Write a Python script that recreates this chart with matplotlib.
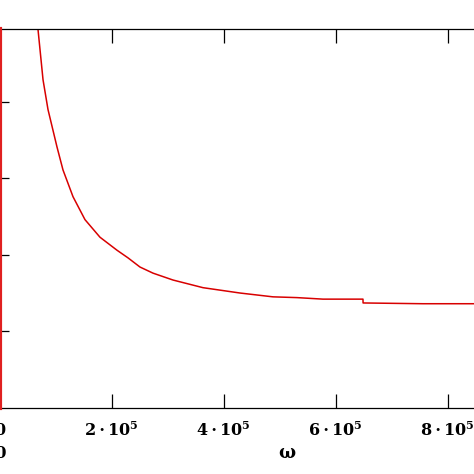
"""Decaying response curve versus omega (cropped plot)."""

import matplotlib
matplotlib.use("Agg")
import matplotlib.pyplot as plt
import numpy as np

# curve, omega in units of 1e5
omega = [0.679, 0.769, 0.858, 1.019, 1.126, 1.305, 1.519, 1.787, 2.091, 2.288,
         2.502, 2.735, 3.092, 3.628, 4.290, 4.879, 5.308, 5.773, 6.488, 6.49,
         7.56, 8.47, 9.5]
response = [4.95, 4.29, 3.90, 3.41, 3.11, 2.76, 2.46, 2.23, 2.06, 1.96,
            1.84, 1.76, 1.67, 1.57, 1.50, 1.45, 1.44, 1.42, 1.42, 1.37,
            1.36, 1.36, 1.35]
wall_x = [0, 0]
wall_y = [0, 4.95]

xticks = [0, 2, 4, 6, 8]
xticklabels = [r"$\mathbf{0}$", r"$\mathbf{2\cdot10^5}$", r"$\mathbf{4\cdot10^5}$",
               r"$\mathbf{6\cdot10^5}$", r"$\mathbf{8\cdot10^5}$"]
yticks = [1, 2, 3, 4]

plt.rcParams["mathtext.fontset"] = "dejavuserif"
plt.rcParams["font.family"] = "DejaVu Serif"

fig = plt.figure(figsize=(4.74, 4.74), dpi=100)
ax = fig.add_axes([0.0, 0.1399, 574 / 474, 0.7983])

red = "#d80000"
ax.plot(np.array(omega) * 1e5, response, color=red, lw=1.1)
ax.plot(wall_x, wall_y, color="#e02020", lw=3, clip_on=False, zorder=5)

ax.set_xlim(0, 10.26e5)
ax.set_ylim(0, 4.95)
ax.set_xticks(np.array(xticks) * 1e5)
ax.set_xticklabels(xticklabels, fontsize=11.5)
ax.set_yticks(yticks)
ax.set_yticklabels([])
ax.tick_params(axis="x", direction="in", length=10, width=0.9, pad=10, top=True)
ax.tick_params(axis="y", direction="in", length=6.5, width=0.9)
for s in ax.spines.values():
    s.set_linewidth(0.9)

ax.text(0.0, -0.12, "0", transform=ax.transAxes, ha="center", va="center",
        fontsize=12, fontweight="bold")
ax.set_xlabel(r"$\mathbf{\omega}$", fontsize=13, labelpad=3)

fig.savefig("out.png", dpi=100)
